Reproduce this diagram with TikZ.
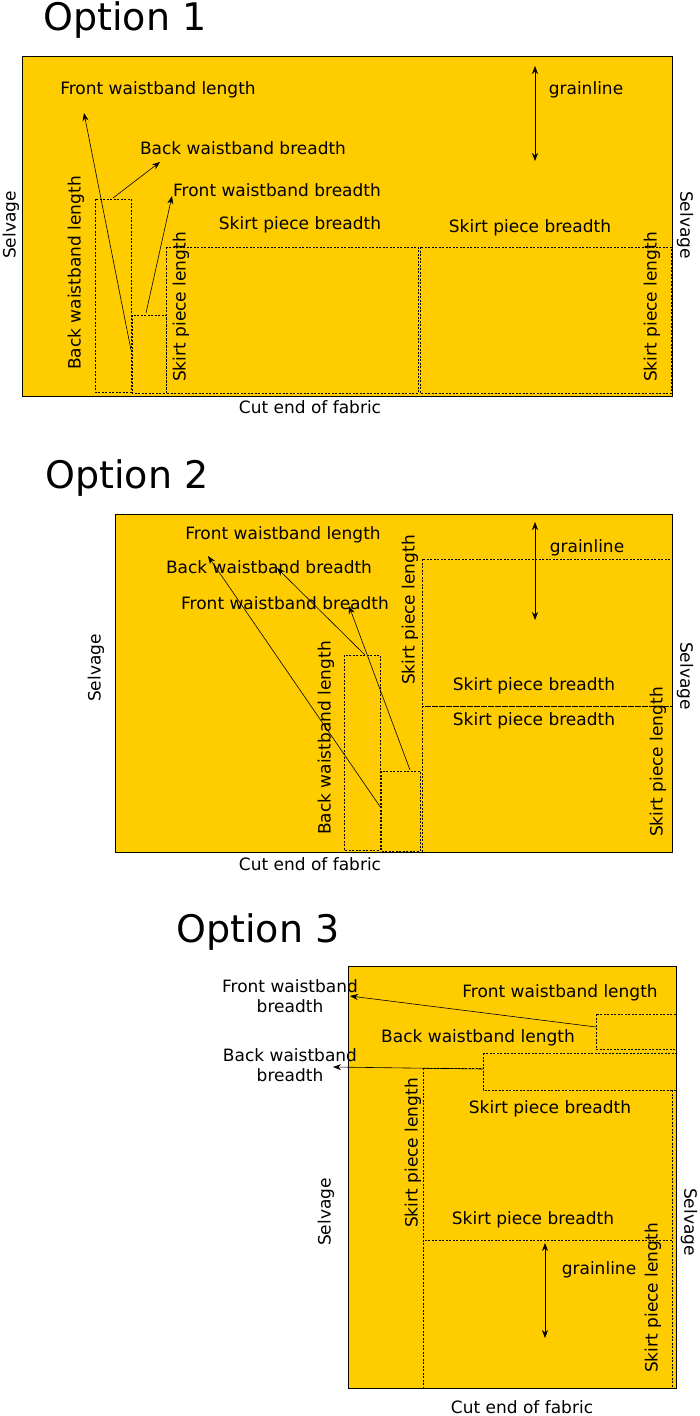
\documentclass[tikz,border=0pt]{standalone}
\usepackage{fontspec}
\setmainfont{DejaVu Sans}
\usetikzlibrary{arrows.meta}
\definecolor{fab}{RGB}{255,204,0}
\begin{document}
\begin{tikzpicture}[x=1pt,y=-1pt,
  fabric/.style={draw=black,fill=fab,line width=0.6pt},
  piece/.style={draw=black,dashed,line width=0.5pt,dash pattern=on 2pt off 1.5pt},
  lbl/.style={font=\fontsize{17}{20}\selectfont,inner sep=0pt},
  ttl/.style={font=\fontsize{38}{42}\selectfont,inner sep=0pt},
  arr/.style={-{Stealth[length=8pt,width=6pt]},line width=0.6pt},
  garr/.style={{Stealth[length=8pt,width=6pt]}-{Stealth[length=8pt,width=6pt]},line width=0.6pt}]
\useasboundingbox (0,0) rectangle (700,1416);
% ---------- Option 1
\node[ttl] (t1) at (125,20) {Option 1};
\draw[fabric] (22,56) rectangle (672,396);
\draw[piece] (95,199) rectangle (131,392);
\draw[piece] (132,315) rectangle (166,393);
\draw[piece] (166,247) rectangle (418,393);
\draw[piece] (420,247) rectangle (671,393);
\node[lbl] (a1) at (158,90) {Front waistband length};
\node[lbl] (a2) at (243,148) {Back waistband breadth};
\node[lbl] (a3) at (277,190) {Front waistband breadth};
\node[lbl] at (300,225) {Skirt piece breadth};
\node[lbl] at (530,228) {Skirt piece breadth};
\node[lbl,rotate=90] at (76,273) {Back waistband length};
\node[lbl,rotate=90] at (181,307) {Skirt piece length};
\node[lbl,rotate=90] at (652,307) {Skirt piece length};
\node[lbl] at (586,90) {grainline};
\node[lbl,rotate=90] at (11,225) {Selvage};
\node[lbl,rotate=-90] at (685,225) {Selvage};
\node[lbl] at (310,407) {Cut end of fabric};
\coordinate (g1a) at (535,66); \coordinate (g1b) at (535,161);
\draw[garr] (g1a) -- (g1b);
\coordinate (s11) at (131,350); \coordinate (e11) at (84,113);
\coordinate (s12) at (113,198); \coordinate (e12) at (160,162);
\coordinate (s13) at (146,313); \coordinate (e13) at (172,196);
\draw[arr] (s11) -- (e11);
\draw[arr] (s12) -- (e12);
\draw[arr] (s13) -- (e13);
% ---------- Option 2
\node[ttl] (t2) at (127,478) {Option 2};
\draw[fabric] (115,514) rectangle (672,852);
\draw[piece] (344,655) rectangle (380,850);
\draw[piece] (381,771) rectangle (420,851);
\draw[piece] (422,559) rectangle (672,706);
\draw[piece] (422,706) rectangle (672,852);
\node[lbl] at (283,535) {Front waistband length};
\node[lbl] at (269,567) {Back waistband breadth};
\node[lbl] at (285,603) {Front waistband breadth};
\node[lbl,rotate=90] at (410,610) {Skirt piece length};
\node[lbl,rotate=90] at (326,738) {Back waistband length};
\node[lbl] at (534,686) {Skirt piece breadth};
\node[lbl] at (534,721) {Skirt piece breadth};
\node[lbl,rotate=90] at (658,762) {Skirt piece length};
\node[lbl] at (587,548) {grainline};
\node[lbl,rotate=90] at (96,668) {Selvage};
\node[lbl,rotate=-90] at (685,676) {Selvage};
\node[lbl] at (310,864) {Cut end of fabric};
\coordinate (g2a) at (535,522); \coordinate (g2b) at (535,620);
\draw[garr] (g2a) -- (g2b);
\coordinate (s21) at (381,808); \coordinate (e21) at (208,556);
\coordinate (s22) at (365,655); \coordinate (e22) at (277,568);
\coordinate (s23) at (410,770); \coordinate (e23) at (349,606);
\draw[arr] (s21) -- (e21);
\draw[arr] (s22) -- (e22);
\draw[arr] (s23) -- (e23);
% ---------- Option 3
\node[ttl] (t3) at (258,932) {Option 3};
\draw[fabric] (348,966) rectangle (676,1388);
\draw[piece] (596,1014) rectangle (676,1049);
\draw[piece] (483,1053) rectangle (676,1090);
\draw[piece] (423,1068) -- (423,1388) -- (672,1388) -- (672,1240) -- (423,1240);
\draw[piece] (423,1068) -- (483,1068);
\draw[piece] (672,1090) -- (672,1240);
\node[lbl,align=center] at (290,996) {Front waistband\\breadth};
\node[lbl] at (560,993) {Front waistband length};
\node[lbl] at (478,1038) {Back waistband length};
\node[lbl,align=center] at (290,1065) {Back waistband\\breadth};
\node[lbl] at (550,1109) {Skirt piece breadth};
\node[lbl] at (533,1220) {Skirt piece breadth};
\node[lbl,rotate=90] at (413,1153) {Skirt piece length};
\node[lbl,rotate=90] at (653,1298) {Skirt piece length};
\node[lbl,rotate=90] at (326,1212) {Selvage};
\node[lbl,rotate=-90] at (689,1222) {Selvage};
\node[lbl] at (599,1270) {grainline};
\node[lbl] at (522,1407) {Cut end of fabric};
\coordinate (g3a) at (545,1243); \coordinate (g3b) at (545,1338);
\draw[garr] (g3a) -- (g3b);
\coordinate (s31) at (596,1027); \coordinate (e31) at (350,996);
\coordinate (s32) at (483,1069); \coordinate (e32) at (333,1067);
\draw[arr] (s31) -- (e31);
\draw[arr] (s32) -- (e32);
\end{tikzpicture}
\end{document}
